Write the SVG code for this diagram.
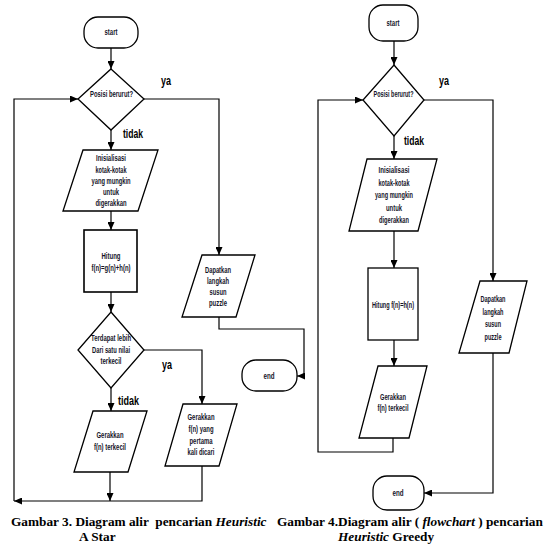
<svg xmlns="http://www.w3.org/2000/svg" width="557" height="555" viewBox="0 0 557 555">
<style>
.n{fill:#fff;stroke:#000;stroke-width:1.3}
.c{fill:none;stroke:#000;stroke-width:1.2}
.t{font-family:"Liberation Sans",Arial,sans-serif;font-weight:bold;font-size:9px;fill:#141428;text-anchor:middle}
.l{font-family:"Liberation Sans",Arial,sans-serif;font-weight:bold;font-size:13px;fill:#000}
.cap{font-family:"Liberation Serif","Times New Roman",serif;font-weight:bold;font-size:13.3px;fill:#000}
.i{font-style:italic}
</style>
<defs>
<marker id="a" markerUnits="userSpaceOnUse" markerWidth="8" markerHeight="7" refX="8" refY="3.5" orient="auto">
<path d="M0,0 L8,3.5 L0,7 z" fill="#000"/>
</marker>
</defs>
<rect width="557" height="555" fill="#fff"/>

<g id="connectors">
<!-- left diagram -->
<path class="c" d="M111,48 V69" marker-end="url(#a)"/>
<path class="c" d="M111,130 V150" marker-end="url(#a)"/>
<path class="c" d="M111,211 V230" marker-end="url(#a)"/>
<path class="c" d="M111,292 V312" marker-end="url(#a)"/>
<path class="c" d="M111,388 V411" marker-end="url(#a)"/>
<path class="c" d="M144,99 H219 V255" marker-end="url(#a)"/>
<path class="c" d="M144,350 H202 V404" marker-end="url(#a)"/>
<path class="c" d="M110,472 V501" marker-end="url(#a)"/>
<path class="c" d="M202,466 V501 H14" marker-end="url(#a)"/>
<path class="c" d="M14,501 V99 H78" marker-end="url(#a)"/>
<path class="c" d="M219,317 V329 H304 V376 H297" marker-end="url(#a)"/>
<!-- right diagram -->
<path class="c" d="M394,41 V65" marker-end="url(#a)"/>
<path class="c" d="M394,136 V159" marker-end="url(#a)"/>
<path class="c" d="M394,231 V268" marker-end="url(#a)"/>
<path class="c" d="M394,340 V366" marker-end="url(#a)"/>
<path class="c" d="M424,100 H493 V281" marker-end="url(#a)"/>
<path class="c" d="M393,438 V452 H318 V100 H363" marker-end="url(#a)"/>
<path class="c" d="M493,353 V493 H424" marker-end="url(#a)"/>
</g>

<g id="labels">
<text class="l" x="161" y="85" textLength="10" lengthAdjust="spacingAndGlyphs">ya</text>
<text class="l" x="123" y="138" textLength="20" lengthAdjust="spacingAndGlyphs">tidak</text>
<text class="l" x="162" y="369" textLength="10" lengthAdjust="spacingAndGlyphs">ya</text>
<text class="l" x="118" y="405" textLength="21" lengthAdjust="spacingAndGlyphs">tidak</text>
<text class="l" x="439" y="85" textLength="10" lengthAdjust="spacingAndGlyphs">ya</text>
<text class="l" x="404" y="145" textLength="20" lengthAdjust="spacingAndGlyphs">tidak</text>
</g>

<!-- left diagram nodes -->
<g id="L_start">
<rect class="n" x="84" y="17" width="54" height="31" rx="14"/>
<text class="t" x="111" y="35" textLength="13" lengthAdjust="spacingAndGlyphs">start</text>
</g>
<g id="L_posisi">
<polygon class="n" points="111,69 144,99 111,130 78,99"/>
<text class="t" x="111.5" y="97" textLength="43" lengthAdjust="spacingAndGlyphs">Posisi berurut?</text>
</g>
<g id="L_inisialisasi">
<polygon class="n" points="83,150 158,150 138,211 63,211"/>
<text class="t" x="111" y="161" textLength="30" lengthAdjust="spacingAndGlyphs">Inisialisasi</text>
<text class="t" x="111" y="173" textLength="31" lengthAdjust="spacingAndGlyphs">kotak-kotak</text>
<text class="t" x="111" y="184" textLength="39" lengthAdjust="spacingAndGlyphs">yang mungkin</text>
<text class="t" x="111" y="195" textLength="16" lengthAdjust="spacingAndGlyphs">untuk</text>
<text class="t" x="111" y="206" textLength="31" lengthAdjust="spacingAndGlyphs">digerakkan</text>
</g>
<g id="L_hitung">
<rect class="n" x="84" y="230" width="53" height="62" style="stroke-width:1.6"/>
<text class="t" x="111" y="259" textLength="19" lengthAdjust="spacingAndGlyphs">Hitung</text>
<text class="t" x="111" y="271" textLength="39" lengthAdjust="spacingAndGlyphs">f(n)=g(n)+h(n)</text>
</g>
<g id="L_terdapat">
<polygon class="n" points="111,312 144,350 111,388 78,350"/>
<text class="t" x="111" y="341" textLength="40" lengthAdjust="spacingAndGlyphs">Terdapat lebih</text>
<text class="t" x="111" y="353" textLength="38" lengthAdjust="spacingAndGlyphs">Dari satu nilai</text>
<text class="t" x="111" y="364" textLength="21" lengthAdjust="spacingAndGlyphs">terkecil</text>
</g>
<g id="L_gerakkan_terkecil">
<polygon class="n" points="93,411 147,411 128,472 74,472"/>
<text class="t" x="110" y="438" textLength="27" lengthAdjust="spacingAndGlyphs">Gerakkan</text>
<text class="t" x="110" y="450" textLength="32" lengthAdjust="spacingAndGlyphs">f(n) terkecil</text>
</g>
<g id="L_gerakkan_pertama">
<polygon class="n" points="183,404 237,404 219,466 165,466"/>
<text class="t" x="201" y="420" textLength="27" lengthAdjust="spacingAndGlyphs">Gerakkan</text>
<text class="t" x="201" y="432" textLength="25" lengthAdjust="spacingAndGlyphs">f(n) yang</text>
<text class="t" x="201" y="444" textLength="23" lengthAdjust="spacingAndGlyphs">pertama</text>
<text class="t" x="201" y="455" textLength="27" lengthAdjust="spacingAndGlyphs">kali dicari</text>
</g>
<g id="L_dapatkan">
<polygon class="n" points="202,255 255,255 236,317 182,317"/>
<text class="t" x="218" y="273" textLength="26" lengthAdjust="spacingAndGlyphs">Dapatkan</text>
<text class="t" x="218" y="284" textLength="22" lengthAdjust="spacingAndGlyphs">langkah</text>
<text class="t" x="218" y="295" textLength="17" lengthAdjust="spacingAndGlyphs">susun</text>
<text class="t" x="218" y="306" textLength="18" lengthAdjust="spacingAndGlyphs">puzzle</text>
</g>
<g id="L_end">
<rect class="n" x="242" y="360" width="55" height="31" rx="14"/>
<text class="t" x="269" y="379" textLength="11" lengthAdjust="spacingAndGlyphs">end</text>
</g>

<!-- right diagram nodes -->
<g id="R_start">
<rect class="n" x="369" y="5" width="49" height="36" rx="14"/>
<text class="t" x="393" y="26" textLength="13" lengthAdjust="spacingAndGlyphs">start</text>
</g>
<g id="R_posisi">
<polygon class="n" points="394,65 424,100 394,136 363,100"/>
<text class="t" x="393.5" y="97" textLength="40" lengthAdjust="spacingAndGlyphs">Posisi berurut?</text>
</g>
<g id="R_inisialisasi">
<polygon class="n" points="367,159 437,159 418,231 349,231"/>
<text class="t" x="394" y="173" textLength="31" lengthAdjust="spacingAndGlyphs">Inisialisasi</text>
<text class="t" x="394" y="186" textLength="31" lengthAdjust="spacingAndGlyphs">kotak-kotak</text>
<text class="t" x="394" y="198" textLength="38" lengthAdjust="spacingAndGlyphs">yang mungkin</text>
<text class="t" x="394" y="211" textLength="16" lengthAdjust="spacingAndGlyphs">untuk</text>
<text class="t" x="394" y="223" textLength="30" lengthAdjust="spacingAndGlyphs">digerakkan</text>
</g>
<g id="R_hitung">
<rect class="n" x="368" y="268" width="50" height="72"/>
<text class="t" x="393" y="308" textLength="42" lengthAdjust="spacingAndGlyphs">Hitung f(n)=h(n)</text>
</g>
<g id="R_gerakkan">
<polygon class="n" points="378,366 427,366 409,438 359,438"/>
<text class="t" x="393" y="400" textLength="26" lengthAdjust="spacingAndGlyphs">Gerakkan</text>
<text class="t" x="393" y="411" textLength="31" lengthAdjust="spacingAndGlyphs">f(n) terkecil</text>
</g>
<g id="R_dapatkan">
<polygon class="n" points="480,281 527,281 509,353 459,353"/>
<text class="t" x="493" y="302" textLength="25" lengthAdjust="spacingAndGlyphs">Dapatkan</text>
<text class="t" x="493" y="315" textLength="21" lengthAdjust="spacingAndGlyphs">langkah</text>
<text class="t" x="493" y="327" textLength="16" lengthAdjust="spacingAndGlyphs">susun</text>
<text class="t" x="493" y="340" textLength="17" lengthAdjust="spacingAndGlyphs">puzzle</text>
</g>
<g id="R_end">
<rect class="n" x="373" y="476" width="51" height="34" rx="14"/>
<text class="t" x="398" y="496" textLength="11" lengthAdjust="spacingAndGlyphs">end</text>
</g>

<g id="captions">
<text class="cap" x="11" y="526" xml:space="preserve">Gambar 3. Diagram alir  pencarian <tspan class="i">Heuristic</tspan></text>
<text class="cap" x="79" y="541">A Star</text>
<text class="cap" x="277" y="526" xml:space="preserve">Gambar 4.Diagram alir ( <tspan class="i">flowchart</tspan> ) pencarian</text>
<text class="cap" x="338" y="541"><tspan class="i">Heuristic</tspan> Greedy</text>
</g>
</svg>
